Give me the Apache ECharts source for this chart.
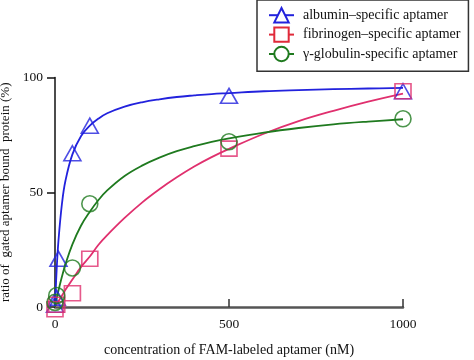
<!DOCTYPE html>
<html><head><meta charset="utf-8">
<script src="https://cdn.jsdelivr.net/npm/echarts@6/dist/echarts.min.js"></script>
<style>html,body{margin:0;padding:0;background:#fff}#c{width:474px;height:360px}</style>
</head><body><div id="c"></div>
<script>
// Series names
var seriesNames = ['albumin\u2013specific aptamer', 'fibrinogen\u2013specific aptamer', '\u03b3-globulin-specific aptamer'];
// Measured points [concentration nM, ratio %]
var albuminPts = [[0, 1], [5, 4], [10, 21], [50, 67], [100, 79], [500, 92], [1000, 94]];
var fibrinogenPts = [[0, -1], [5, 1], [50, 6], [100, 21], [500, 69], [1000, 94]];
var globulinPts = [[0, 2], [5, 5], [50, 17], [100, 45], [500, 72], [1000, 82]];
// Fitted curves
var curveX = [0, 5, 10, 20, 30, 50, 75, 100, 125, 150, 200, 250, 300, 350, 400, 450, 500, 600, 700, 800, 900, 1000];
var albuminCurve = [0, 17, 29, 45, 55, 66.5, 74.5, 79, 82.1, 84.4, 87.3, 89.2, 90.5, 91.5, 92.2, 92.8, 93.2, 94, 94.5, 94.9, 95.2, 95.5];
var fibrinogenCurve = [0, 1.2, 2.5, 5, 7.5, 12, 17.5, 22, 27.1, 31.3, 38.8, 45.5, 51.3, 56.5, 61.2, 65.3, 68.9, 75.5, 81, 85.5, 89.5, 93];
var globulinCurve = [0, 3.8, 7.2, 13.3, 18.6, 27.3, 35.5, 41.5, 46.6, 50.8, 57.1, 61.6, 65.1, 67.9, 70.1, 72, 73.5, 76, 78, 79.6, 80.8, 81.8];
// Axis ticks
var xTicks = [0, 500, 1000];
var yTicks = [0, 50, 100];

var colors = ['#2222dd', '#e0306e', '#1f7a1f'];
var legendColors = ['#2222dd', '#e02a3a', '#1f7a1f'];
var symbols = ['triangle', 'rect', 'circle'];
var symSizes = [[17, 15], [16, 15], [16, 16]];
var pts = [albuminPts, fibrinogenPts, globulinPts];
var curves = [albuminCurve, fibrinogenCurve, globulinCurve];
var font = '"Liberation Serif", "Times New Roman", serif';

function zip(xs, ys) { return xs.map(function (x, i) { return [x, ys[i]]; }); }

var series = [];
for (var i = 0; i < 3; i++) {
  series.push({
    name: seriesNames[i], type: 'line', data: zip(curveX, curves[i]),
    smooth: 0.4, symbol: 'empty' + symbols[i].charAt(0).toUpperCase() + symbols[i].slice(1),
    showSymbol: false, lineStyle: { color: colors[i], width: 1.8 },
    itemStyle: { color: colors[i] }, z: 2, silent: true
  });
  series.push({
    name: 'pts' + i, type: 'scatter', data: pts[i], clip: false,
    symbol: symbols[i], symbolSize: symSizes[i],
    itemStyle: { color: 'rgba(0,0,0,0)', borderColor: colors[i], borderWidth: 1.6 }, z: 3
  });
}

var chart = echarts.init(document.getElementById('c'), null, { renderer: 'canvas' });
chart.setOption({
  animation: false,
  backgroundColor: '#fff',
  textStyle: { fontFamily: font },
  legend: {
    data: seriesNames.map(function (n, i) {
      return { name: n, itemStyle: { color: legendColors[i] }, lineStyle: { color: legendColors[i], width: 2 } };
    }),
    orient: 'vertical', left: 257, top: 0,
    padding: [7, 8, 9, 11], itemWidth: 25, itemHeight: 18, itemGap: 3,
    borderColor: '#333', borderWidth: 1.5,
    textStyle: { fontFamily: font, fontSize: 14, color: '#111', padding: [0, 0, 0, 4] }
  },
  grid: { left: 55, right: 71, top: 77.5, bottom: 53, containLabel: false, outerBoundsMode: 'none' },
  xAxis: {
    type: 'value', min: 0, max: 1000, interval: 500,
    name: 'concentration of FAM-labeled aptamer (nM)', nameLocation: 'middle', nameGap: 36,
    nameTextStyle: { fontFamily: font, fontSize: 14, color: '#111' },
    axisLine: { lineStyle: { color: '#555', width: 2.5 } },
    axisTick: { inside: true, length: 8, lineStyle: { color: '#333', width: 1.5 } },
    axisLabel: { fontFamily: font, fontSize: 13.5, color: '#111', margin: 10, formatter: function (v) { return String(v); } },
    splitLine: { show: false }
  },
  yAxis: {
    type: 'value', min: 0, max: 100, interval: 50,
    name: 'ratio of  gated aptamer bound  protein (%)', nameLocation: 'middle', nameGap: 38,
    nameTextStyle: { fontFamily: font, fontSize: 13, color: '#111' },
    axisLine: { lineStyle: { color: '#111', width: 1.5 } },
    axisTick: { length: 8, lineStyle: { color: '#111', width: 1.5 } },
    axisLabel: { fontFamily: font, fontSize: 13.5, color: '#111', margin: 12, formatter: function (v) { return String(v); } },
    splitLine: { show: false }
  },
  series: series
});
</script></body></html>
